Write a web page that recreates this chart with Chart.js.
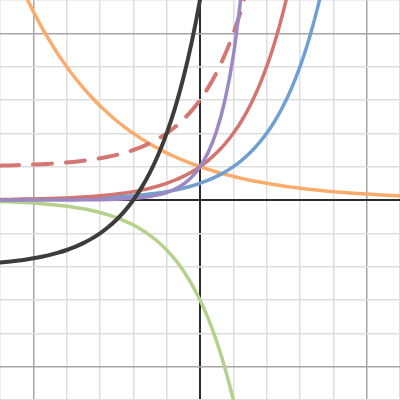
<!DOCTYPE html>
<html>
<head>
<meta charset="utf-8">
<script src="https://cdn.jsdelivr.net/npm/chart.js@4.4.1/dist/chart.umd.min.js"></script>
<style>
html,body{margin:0;padding:0;background:#fff;overflow:hidden;}
canvas{display:block;}
</style>
</head>
<body>
<canvas id="c" width="400" height="400"></canvas>
<script>
// x samples (shared by every curve)
const xs = [-6,-5.75,-5.5,-5.25,-5,-4.75,-4.5,-4.25,-4,-3.75,-3.5,-3.25,-3,-2.75,-2.5,-2.25,-2,-1.75,-1.5,-1.25,-1,-0.75,-0.5,-0.25,0,0.25,0.5,0.75,1,1.25,1.5,1.75,2,2.25,2.5,2.75,3,3.25,3.5,3.75,4,4.25,4.5,4.75,5,5.25,5.5,5.75,6];

const blackVals = [-1.875,-1.851,-1.823,-1.790,-1.75,-1.703,-1.646,-1.580,-1.5,-1.405,-1.293,-1.159,-1,-0.811,-0.586,-0.318,0,0.378,0.828,1.364,2,2.757,3.657,4.727,6,7.514];

const orangeVals = [8,7.336,6.727,6.169,5.657,5.187,4.757,4.362,4,3.668,3.364,3.084,2.828,2.594,2.378,2.181,2,1.834,1.682,1.542,1.414,1.297,1.189,1.091,1,0.917,0.841,0.771,0.707,0.648,0.595,0.545,0.5,0.459,0.420,0.386,0.354,0.324,0.297,0.273,0.25,0.229,0.210,0.193,0.177,0.162,0.149,0.136,0.125];

const redVals = [0.0156,0.0186,0.0221,0.0263,0.03125,0.0372,0.0442,0.0526,0.0625,0.0743,0.0884,0.1051,0.125,0.1487,0.1768,0.2102,0.25,0.2973,0.3536,0.4204,0.5,0.5946,0.7071,0.8409,1,1.189,1.414,1.682,2,2.378,2.828,3.364,4,4.757,5.657,6.727,8];

const blueVals = [0.0078,0.0093,0.011,0.0131,0.0156,0.0186,0.0221,0.0263,0.03125,0.0372,0.0442,0.0526,0.0625,0.0743,0.0884,0.1051,0.125,0.1487,0.1768,0.2102,0.25,0.2973,0.3536,0.4204,0.5,0.5946,0.7071,0.8409,1,1.189,1.414,1.682,2,2.378,2.828,3.364,4,4.757,5.657,6.727,8];

const purpleVals = [0.0001,0.00018,0.00026,0.00038,0.00055,0.0008,0.00117,0.0017,0.00248,0.0036,0.0052,0.0076,0.0111,0.0162,0.0235,0.0342,0.0498,0.0724,0.1054,0.1534,0.2231,0.3247,0.4724,0.6873,1,1.44,2.08,3.0,4.33,6.25];

const dashedVals = [1.031,1.037,1.044,1.053,1.0625,1.074,1.088,1.105,1.125,1.149,1.177,1.210,1.25,1.297,1.354,1.420,1.5,1.595,1.707,1.841,2,2.189,2.414,2.682,3,3.378,3.828,4.364,5,5.757,6.657];

const greenVals = [-0.0469,-0.0558,-0.0663,-0.0788,-0.0938,-0.1115,-0.1326,-0.1577,-0.1875,-0.2230,-0.2652,-0.3154,-0.375,-0.4460,-0.5303,-0.6307,-0.75,-0.8919,-1.061,-1.261,-1.5,-1.784,-2.121,-2.523,-3,-3.568,-4.243,-5.045,-6,-7.135];

// grid tick values
const gridTicks = [-6,-5,-4,-3,-2,-1,0,1,2,3,4,5,6];

function pts(vals){ return vals.map((v,i)=>({x:xs[i], y:v})); }

function ds(vals, color, width, order, dash){
  return {
    type:'line',
    data: pts(vals),
    borderColor: color,
    borderWidth: width,
    pointRadius: 0,
    fill: false,
    showLine: true,
    cubicInterpolationMode: 'monotone',
    borderCapStyle: 'round',
    borderJoinStyle: 'round',
    borderDash: dash || [],
    order: order
  };
}

function gridColor(c){
  const v = c.tick ? c.tick.value : 0;
  if (v === 0) return '#2b2b2b';
  if (Math.abs(v) === 5) return '#a6a6a6';
  return '#dedede';
}
function gridWidth(c){
  const v = c.tick ? c.tick.value : 0;
  if (v === 0) return 2;
  return 1.5;
}

const axisOpts = {
  type:'linear', min:-6, max:6,
  afterBuildTicks: (s)=>{ s.ticks = gridTicks.map(v=>({value:v})); },
  ticks:{display:false},
  grid:{drawTicks:false, color:gridColor, lineWidth:gridWidth},
  border:{display:false}
};

new Chart(document.getElementById('c'), {
  type:'scatter',
  data:{
    datasets:[
      ds(blackVals, '#3c3c3c', 4, 0),
      ds(purpleVals, '#9c88c4', 3.5, 1),
      ds(dashedVals, '#d47773', 4, 2, [19,14]),
      ds(redVals, '#d27470', 3.5, 3),
      ds(blueVals, '#709fd2', 3.5, 4),
      ds(greenVals, '#b5d18b', 3.5, 5),
      ds(orangeVals, '#f9ac6c', 3.5, 6)
    ]
  },
  options:{
    responsive:false,
    animation:false,
    layout:{padding:0},
    plugins:{legend:{display:false}, tooltip:{enabled:false}},
    scales:{ x: axisOpts, y: Object.assign({}, axisOpts) }
  }
});
</script>
</body>
</html>
